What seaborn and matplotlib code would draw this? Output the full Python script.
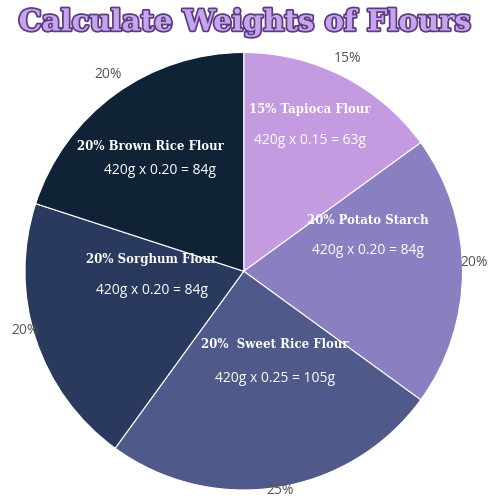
import matplotlib
matplotlib.use("Agg")
import matplotlib.pyplot as plt
import matplotlib.patheffects as pe
import seaborn as sns

sns.set_theme(style="white")

flours = ["15% Tapioca Flour", "20% Potato Starch", "20%  Sweet Rice Flour", "20% Sorghum Flour", "20% Brown Rice Flour"]
shares = [15, 20, 25, 20, 20]
formulas = ["420g x 0.15 = 63g", "420g x 0.20 = 84g", "420g x 0.25 = 105g", "420g x 0.20 = 84g", "420g x 0.20 = 84g"]
outer_labels = ["15%", "20%", "25%", "20%", "20%"]
colors = ["#c49be0", "#8a7fc0", "#4f5a8a", "#2a3a5e", "#0f2236"]

# label positions (pixel coords in the 500x500 image)
title_px = [(310, 110), (368, 220), (275, 345), (152, 260), (150, 146)]
formula_px = [(310, 140), (368, 250), (275, 378), (152, 290), (160, 170)]
outer_px = [(348, 58), (474, 263), (280, 490), (25, 330), (108, 75)]

fig = plt.figure(figsize=(5, 5), dpi=100)
fig.patch.set_facecolor("white")
ax = fig.add_axes([0.05, 0.02, 0.875, 0.875])
ax.pie(shares, colors=colors, startangle=90, counterclock=False,
       wedgeprops=dict(edgecolor="white", linewidth=0.8))
ax.set_xlim(-1, 1); ax.set_ylim(-1, 1); ax.set_aspect("equal")

def fig_xy(p):
    return p[0] / 500, 1 - p[1] / 500

for i in range(len(flours)):
    fig.text(*fig_xy(title_px[i]), flours[i], ha="center", va="center", color="white",
             fontsize=8.5, fontweight="bold", family="DejaVu Serif")
    fig.text(*fig_xy(formula_px[i]), formulas[i], ha="center", va="center", color="white",
             fontsize=10, family="Open Sans")
    fig.text(*fig_xy(outer_px[i]), outer_labels[i], ha="center", va="center", color="#555555",
             fontsize=10, family="Open Sans")

fig.text(0.49, 1 - 22 / 500, "Calculate Weights of Flours", ha="center", va="center",
         fontsize=21, fontweight="bold", family="DejaVu Serif", color="#c7a5ee",
         path_effects=[pe.withStroke(linewidth=2.5, foreground="#5b3d80")])

fig.savefig("out.png", dpi=100)
